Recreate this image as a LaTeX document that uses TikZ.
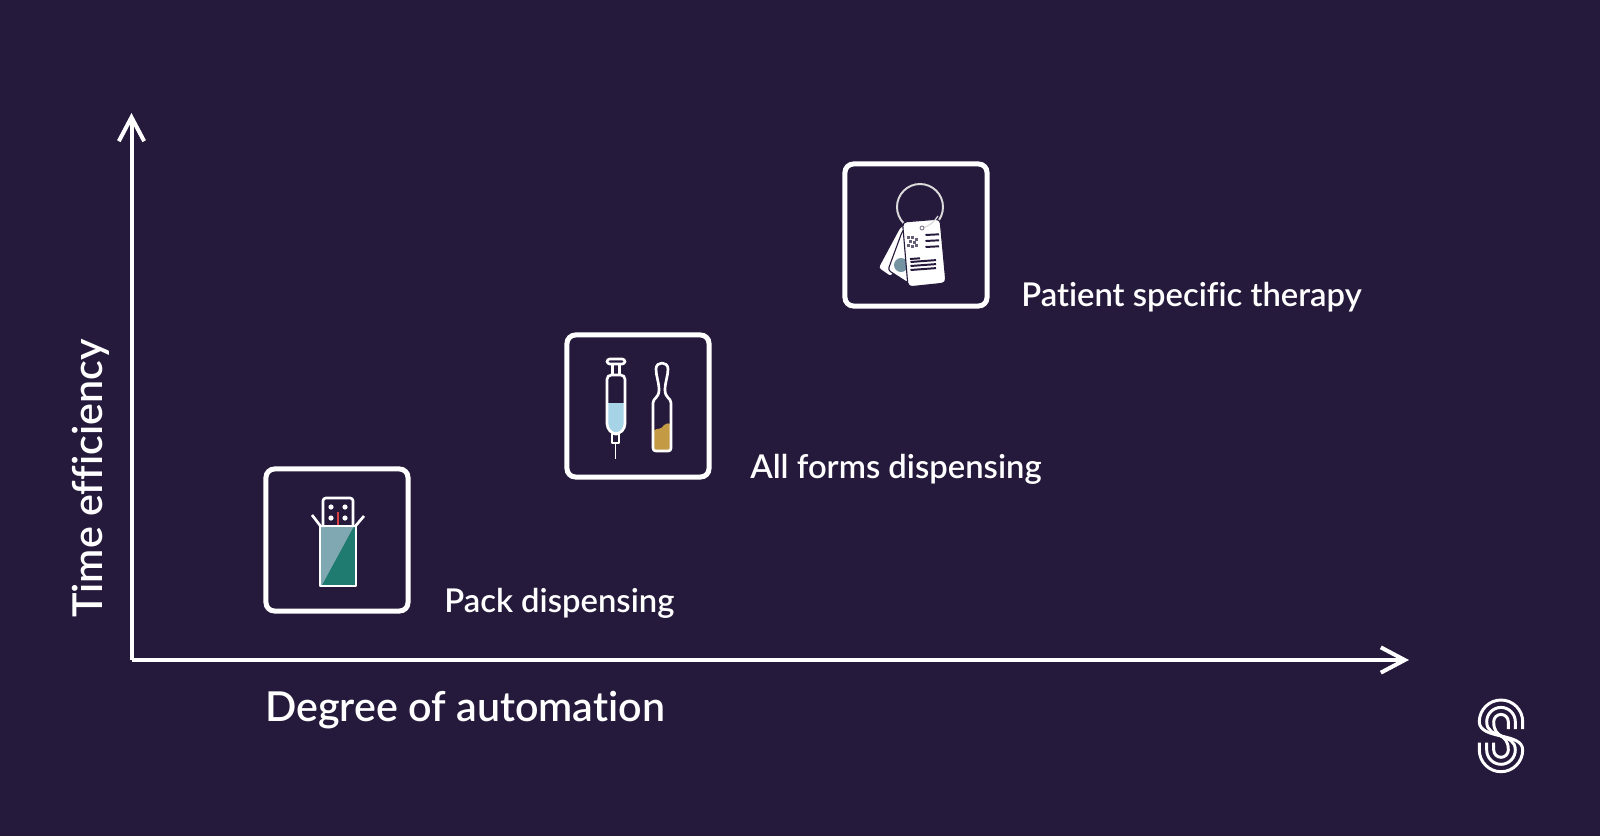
\documentclass[tikz,border=0pt]{standalone}
\usepackage{fontspec}
\setmainfont{Lato Semibold}[Ligatures=NoCommon]
\usetikzlibrary{arrows.meta}
\definecolor{bgdark}{HTML}{261A3C}
\definecolor{tealdark}{HTML}{1F7A70}
\definecolor{teallight}{HTML}{7FA8B2}
\definecolor{syringeblue}{HTML}{A6D3E6}
\definecolor{ampoulegold}{HTML}{C49A45}
\definecolor{pillred}{HTML}{D9403F}
\definecolor{ringgray}{HTML}{DADADA}
\begin{document}
\begin{tikzpicture}[x=0.025cm, y=-0.025cm,
	axis/.style={draw=white, line width=4*0.711pt, -{Straight Barb[length=17pt, width=18pt, line width=4*0.711pt]}},
	box/.style={draw=white, line width=5*0.711pt, rounded corners=6pt, minimum width=101pt, minimum height=101pt, inner sep=0pt},
	caption/.style={text=white, font=\fontsize{23.3}{28}\selectfont, anchor=base west, inner sep=0pt},
	axislabel/.style={text=white, font=\fontsize{29.3}{34}\selectfont, anchor=base west, inner sep=0pt},
	icon/.style={draw=white, line width=1.9pt, line join=round},
	textline/.style={draw=bgdark, line width=1.4pt}]
	%% Background
	\fill [bgdark] (0,0) rectangle (1600,836);
	\useasboundingbox (0,0) rectangle (1600,836);
	%% Axes
	\coordinate (O) at (131.5,660);
	\coordinate (Ytip) at (131.5,113);
	\coordinate (Xtip) at (1409,660);
	\draw [axis] (O) -- (Ytip);
	\draw [axis] (O) -- (Xtip);
	\node [axislabel] at (265,721) (XLabel) {Degree of automation};
	\node [axislabel, rotate=90] at (102,618) (YLabel) {Time efficiency};
	%% Boxes
	\node [box] at (337,540) (PackBox) {};
	\node [box] at (638,406) (FormsBox) {};
	\node [box] at (916,235) (PatientBox) {};
	\node [caption] at (444,612) (PackText) {Pack dispensing};
	\node [caption] at (750,478) (FormsText) {All forms dispensing};
	\node [caption] at (1021,306) (PatientText) {Patient specific therapy};
	%% Pack icon
	\fill [tealdark] (320,526) rectangle (356,586);
	\fill [teallight] (320,526) -- (354,526) -- (322,585) -- (320,586) -- cycle;
	\draw [icon] (320,526) rectangle (356,586);
	\draw [icon, rounded corners=2pt] (323,527) -- (323,498) -- (353,498) -- (353,527);
	\foreach \px in {331,345}
		\foreach \py in {507,518}
			\fill [white] (\px,\py) circle (2.6);
	\draw [pillred, line width=1.9pt] (338,512) -- (338,525);
	\draw [icon] (312,515) -- (320.5,526);
	\draw [icon] (364,516) -- (355.5,526);
	%% Syringe icon
	\fill [syringeblue] (607,403) -- (625,403) -- (625,428) -- (619,434) -- (613,434) -- (607,428) -- cycle;
	\draw [icon, rounded corners=2pt] (607,359) rectangle (625,364);
	\draw [icon] (612.5,364) -- (612.5,375) (619.5,364) -- (619.5,375);
	\draw [icon, rounded corners=3pt] (607,375) -- (625,375) -- (625,428) -- (619,434) -- (613,434) -- (607,428) -- cycle;
	\draw [icon] (612,434) rectangle (619,443);
	\draw [draw=white, line width=1.1pt] (615.5,443) -- (615.5,459);
	%% Ampoule icon
	\fill [ampoulegold] (653,431) .. controls (658,427) and (660,431) .. (664,425) .. controls (666,423) and (669,423) .. (671,424) -- (671,448) -- (668,451) -- (656,451) -- (653,448) -- cycle;
	\draw [icon] (656,451) .. controls (654,451) and (653,450) .. (653,448) -- (653,403) .. controls (653,398) and (659,398) .. (659,390) .. controls (659,382) and (656,376) .. (656,369) .. controls (656,361) and (668,361) .. (668,369) .. controls (668,376) and (665,382) .. (665,390) .. controls (665,398) and (671,398) .. (671,403) -- (671,448) .. controls (671,450) and (670,451) .. (668,451) -- cycle;
	%% Patient icon
	\draw [ringgray, line width=1.4pt] (920,207) circle (23);
	\filldraw [fill=white, draw=bgdark, line width=0.8pt, rounded corners=2pt] (900,227) -- (914,220) -- (922,226) -- (891,277) -- (878,268) -- cycle;
	\filldraw [fill=white, draw=bgdark, line width=0.8pt, rounded corners=2pt] (902,232) -- (912,220) -- (930,232) -- (908,283) -- (888,270) -- cycle;
	\fill [syringeblue!70!black] (901,265) circle (7);
	\filldraw [fill=white, draw=bgdark, line width=0.8pt, rounded corners=3pt] (902.5,222) -- (940,219) -- (946,283) -- (908,287) -- cycle;
	\draw [ringgray, line width=0.9pt] (922,228) .. controls (930,226) and (934,222) .. (938,216);
	\filldraw [fill=white, draw=bgdark!60, line width=0.6pt] (922,228) circle (2);
	\foreach \qx/\qy in {907/236,911/236,915/238,909/240,913/241,907/244,911/245,915/244}
		\fill [bgdark!70] (\qx,\qy) rectangle ++(2.6,2.6);
	\foreach \ly in {235,241,247}
		\draw [textline] (925.5,\ly) -- (939,\ly-0.7);
	\draw [textline] (910,259) -- (920,258.3);
	\foreach \ly in {262,266,270}
		\draw [textline] (910.5,\ly) -- (936,\ly-1.9);
	%% Logo
	\foreach \r in {21.7,14.3,7.3} {
		\draw [white, line width=2.1pt] (1501+\r,729) -- (1501+\r,721.7)
			.. controls (1501+\r,721.7-0.55*\r) and (1501+0.55*\r,721.7-\r) .. (1501,721.7-\r)
			.. controls (1501-0.55*\r,721.7-\r) and (1501-\r,721.7-0.55*\r) .. (1501-\r,721.7)
			.. controls (1501-\r,740) and (1501+\r,732) .. (1501+\r,750)
			.. controls (1501+\r,750+0.55*\r) and (1501+0.55*\r,750+\r) .. (1501,750+\r)
			.. controls (1501-0.55*\r,750+\r) and (1501-\r,750+0.55*\r) .. (1501-\r,750)
			-- (1501-\r,742.7);
	}
\end{tikzpicture}
\end{document}
